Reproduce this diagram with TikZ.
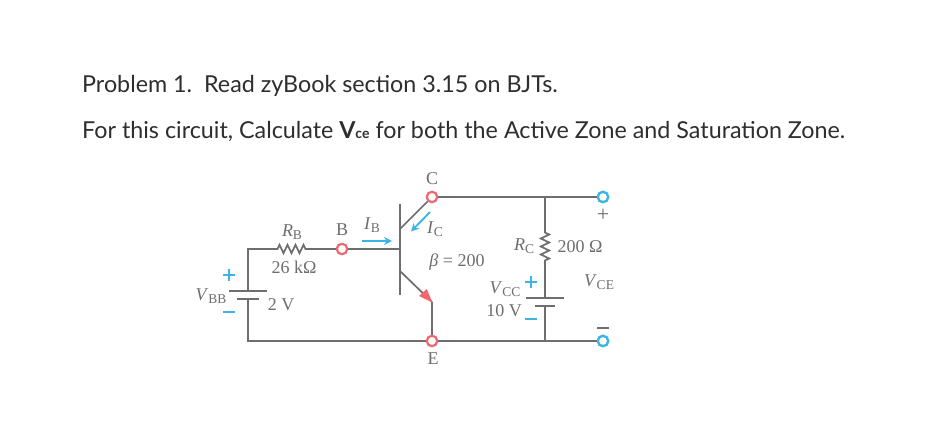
\documentclass[tikz,border=0pt]{standalone}
\usepackage{fontspec}
\setmainfont{Liberation Serif}
\newfontfamily\headfont{Lato}
\usetikzlibrary{decorations.pathmorphing,arrows.meta}
\definecolor{wire}{HTML}{6E6E6E}
\definecolor{lab}{HTML}{6E6E6E}
\definecolor{termred}{HTML}{F0686E}
\definecolor{termblue}{HTML}{3DB4E6}
\newcommand{\subs}[1]{\raisebox{-2.5pt}{\fontsize{13.5}{13.5}\selectfont #1}}
\tikzset{
  wireline/.style={draw=wire,line width=1.7pt},
  plate/.style={draw=wire,line width=1.7pt},
  zigzag/.style={wireline,decorate,decoration={zigzag,segment length=8pt,amplitude=4.2pt,pre length=0.5pt,post length=0.5pt}},
  termr/.style={circle,draw=termred,fill=white,line width=2.2pt,minimum size=10.5pt,inner sep=0pt},
  termb/.style={circle,draw=termblue,fill=white,line width=2.4pt,minimum size=10.5pt,inner sep=0pt},
  lbl/.style={text=lab,font=\fontsize{18}{20}\selectfont,inner sep=0pt},
  sign/.style={draw=none,fill=termblue,minimum width=12pt,minimum height=2.8pt,inner sep=0pt},
  head/.style={anchor=base west,inner sep=0pt,text=black!82,font=\headfont\fontsize{23.3}{26}\selectfont},
  current/.style={draw=termblue,line width=1.9pt,-{Stealth[length=8pt,width=8pt]}}
}
\begin{document}
\begin{tikzpicture}[x=1pt,y=-1pt]
\useasboundingbox (0,0) rectangle (939,426);
\fill[white] (0,0) rectangle (939,426);
\node[head] (line1) at (82,92) {Problem 1.\ \ Read zyBook section 3.15 on BJTs.};
\node[head] (line2) at (82,138) {For this circuit, Calculate {\bfseries V{\fontsize{14}{14}\selectfont ce}} for both the Active Zone and Saturation Zone.};
% junction points
\coordinate (tl) at (248,249);
\coordinate (bl) at (248,341);
\coordinate (rbl) at (277,249);
\coordinate (rbr) at (309,249);
\coordinate (bas) at (400,249);
\coordinate (barT) at (400,204);
\coordinate (barB) at (400,295);
\coordinate (cj) at (400,229);
\coordinate (ej) at (400,271);
\coordinate (eb) at (432,302);
\coordinate (vbt) at (248,291);
\coordinate (vbb) at (248,299);
\coordinate (rct) at (545,197);
\coordinate (rc1) at (545,232);
\coordinate (rc2) at (545,263);
\coordinate (vct) at (545,298);
\coordinate (vcb) at (545,306);
\coordinate (rcb) at (545,341);
% terminals
\node[termr] (B) at (342,249) {};
\node[termr] (C) at (432,197) {};
\node[termr] (E) at (432,341) {};
\node[termb] (P) at (603,197) {};
\node[termb] (M) at (603,341) {};
% wires
\draw[wireline] (vbt) -- (tl) -- (rbl);
\draw[zigzag] (rbl) -- (rbr);
\draw[wireline] (rbr) -- (B);
\draw[wireline] (B) -- (bas);
\draw[wireline] (vbb) -- (bl) -- (E);
\draw[plate] (229,291) -- (267,291);
\draw[plate] (237,299) -- (259,299);
\draw[plate] (barT) -- (barB);
\draw[wireline] (cj) -- (C);
\draw[wireline] (ej) -- (eb);
\draw[wireline] (eb) -- (E);
\fill[termred] (432.5,302.5) -- (419,296) -- (426.7,289) -- cycle;
\draw[wireline] (C) -- (P);
\draw[wireline] (E) -- (M);
\draw[wireline] (rct) -- (rc1);
\draw[zigzag] (rc1) -- (rc2);
\draw[wireline] (rc2) -- (vct);
\draw[wireline] (vcb) -- (rcb);
\draw[plate] (526,298) -- (564,298);
\draw[plate] (535,306) -- (555,306);
% current arrows
\coordinate (ib1) at (362,241);
\coordinate (ib2) at (392,241);
\coordinate (ic1) at (430,212);
\coordinate (ic2) at (411,231.5);
\draw[current] (ib1) -- (ib2);
\draw[current] (ic1) -- (ic2);
% labels
\node[lbl] (lC) at (432,179) {C};
\node[lbl] (lE) at (433,359) {E};
\node[lbl] (lB) at (342,230) {B};
\node[lbl] (lRB) at (292,232) {\textit{R}\subs{B}};
\node[lbl] (lR) at (294,267) {26 kΩ};
\node[lbl] (lIB) at (372,225) {\textit{I}\subs{B}};
\node[lbl] (lIC) at (435,229) {\textit{I}\subs{C}};
\node[lbl] (lbeta) at (457,262) {\textit{β} = 200};
\node[lbl] (lRC) at (524,246) {\textit{R}\subs{C}};
\node[lbl] (l200) at (580,247) {200 Ω};
\node[lbl] (lVCE) at (599,282) {\textit{V}\subs{CE}};
\node[lbl] (lVCC) at (505,289) {\textit{V}\subs{CC}};
\node[lbl] (l10) at (504,311) {10 V};
\node[lbl] (lVBB) at (211,296) {\textit{V}\subs{BB}};
\node[lbl] (l2) at (281,305) {2 V};
\node[sign] (s1) at (229,275) {};
\node[sign,minimum width=2.8pt,minimum height=12pt] (s1v) at (229,275) {};
\node[sign] (s2) at (229,312) {};
\node[sign] (s3) at (531,282) {};
\node[sign,minimum width=2.8pt,minimum height=12pt] (s3v) at (531,282) {};
\node[sign] (s4) at (531,319) {};
\node[lbl,font=\fontsize{22}{22}\selectfont] (s5) at (603,215) {+};
\node[lbl] (s6) at (603,328) {\rule{12pt}{1.2pt}};
\end{tikzpicture}
\end{document}
